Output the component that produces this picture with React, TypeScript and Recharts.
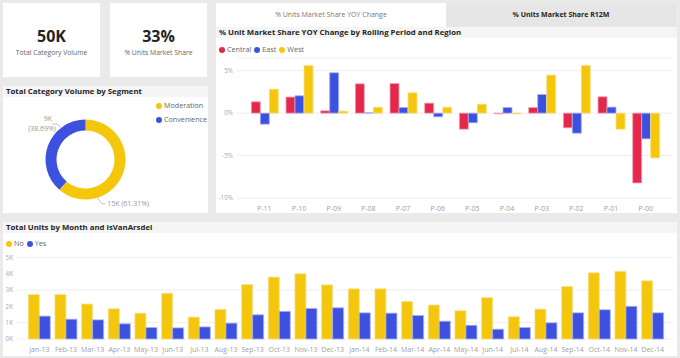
import React from "react";
import { BarChart, Bar, XAxis, YAxis, CartesianGrid, PieChart, Pie, Cell } from "recharts";

const periods = ["P-11", "P-10", "P-09", "P-08", "P-07", "P-06", "P-05", "P-04", "P-03", "P-02", "P-01", "P-00"];
const central = [1.34, 1.9, 0.28, 3.46, 3.5, 1.18, -1.89, -0.08, 0.67, -1.73, 1.93, -8.23];
const east = [-1.3, 2.05, 4.76, 0.04, 0.67, -0.43, -1.14, 0.67, 2.2, -2.36, 0.71, -3.03];
const west = [2.83, 5.6, 0.24, 0.7, 2.4, 0.7, 1.06, -0.1, 4.49, 5.63, -1.89, -5.28];
const yoyTicks = [-10, -5, 0, 5];

const months = [
  "Jan-13", "Feb-13", "Mar-13", "Apr-13", "May-13", "Jun-13", "Jul-13", "Aug-13", "Sep-13", "Oct-13", "Nov-13", "Dec-13",
  "Jan-14", "Feb-14", "Mar-14", "Apr-14", "May-14", "Jun-14", "Jul-14", "Aug-14", "Sep-14", "Oct-14", "Nov-14", "Dec-14",
];
const unitsNo = [2720, 2720, 2140, 1850, 1580, 2800, 1340, 1810, 3330, 3790, 3990, 3310, 3070, 3070, 2300, 2080, 1730, 2530, 1360, 1830, 3210, 4050, 4140, 3560];
const unitsYes = [1400, 1210, 1170, 930, 700, 680, 740, 970, 1480, 1690, 1870, 1910, 1600, 1580, 1440, 1090, 840, 600, 700, 990, 1600, 1790, 2000, 1600];
const unitTicks = [0, 1000, 2000, 3000, 4000, 5000];

const segments = ["Moderation", "Convenience"];
const segmentVolume = [15330, 9675];
const segmentLabels = ["15K (61.31%)", "9K (38.69%)"];

const RED = "#e3284b";
const BLUE = "#3d51e1";
const YELLOW = "#f4c70d";
const FONT = "'Segoe UI', 'Open Sans', sans-serif";

const yoyData = periods.map((p, i) => ({ name: p, Central: central[i], East: east[i], West: west[i] }));
const unitData = months.map((m, i) => ({ name: m, No: unitsNo[i], Yes: unitsYes[i] }));
const pieData = segments.map((s, i) => ({ name: s, value: segmentVolume[i], label: segmentLabels[i] }));
const pieColors = [YELLOW, BLUE];

const panel = (l: number, t: number, w: number, h: number, bg = "#fff"): React.CSSProperties => ({
  position: "absolute", left: l, top: t, width: w, height: h, background: bg,
});

const titleStyle: React.CSSProperties = {
  position: "absolute", left: 0, right: 0, top: 0, height: 11, background: "#f5f5f5",
  fontSize: 7.8, fontWeight: 700, color: "#252423", paddingLeft: 3, lineHeight: "11px", whiteSpace: "nowrap",
};

const kpiValue: React.CSSProperties = {
  position: "absolute", top: 23, width: "100%", textAlign: "center", fontSize: 16, lineHeight: "20px", fontWeight: 700, color: "#252423",
};
const kpiLabel: React.CSSProperties = {
  position: "absolute", top: 45, width: "100%", textAlign: "center", fontSize: 6.8, lineHeight: "10px", color: "#666",
};

const xTick = { fontSize: 7, fill: "#a0a0a0", fontFamily: FONT };
const yTick = { fontSize: 6.3, fill: "#a8a8a8", fontFamily: FONT };

function Dot({ color }: { color: string }) {
  return <span style={{ display: "inline-block", width: 6, height: 6, borderRadius: 3, background: color, marginRight: 2, verticalAlign: "-0.5px" }} />;
}

function Legend({ items }: { items: { name: string; color: string }[] }) {
  return (
    <div style={{ fontSize: 7.2, color: "#666", whiteSpace: "nowrap" }}>
      {items.map((it) => (
        <span key={it.name} style={{ marginRight: 3 }}>
          <Dot color={it.color} />
          {it.name}
        </span>
      ))}
    </div>
  );
}

const RADIAN = Math.PI / 180;
const labelAngle = [-73, 127];

function renderPieLabel(props: any) {
  const { cx, cy, outerRadius, index } = props;
  const a = labelAngle[index];
  const sx = cx + outerRadius * Math.cos(-a * RADIAN);
  const sy = cy + outerRadius * Math.sin(-a * RADIAN);
  const right = Math.cos(-a * RADIAN) >= 0;
  const mx = sx + (right ? 5 : -4.5);
  const my = sy + (right ? 6 : -3.5);
  const ex = mx + (right ? 3 : -5);
  const text = pieData[index].label;
  const parts = text.split(" ");
  return (
    <g key={index}>
      <path d={`M${sx},${sy}L${mx},${my}L${ex},${my}`} stroke="#b5b5b5" fill="none" strokeWidth={0.8} />
      {right ? (
        <text x={ex + 2} y={my + 2.5} fontSize={7} fill="#999" fontFamily={FONT}>{text}</text>
      ) : (
        <text fontSize={7} fill="#999" fontFamily={FONT} textAnchor="end">
          <tspan x={ex} y={my - 3}>{parts[0]}</tspan>
          <tspan x={ex + 4} y={my + 7}>{parts[1]}</tspan>
        </text>
      )}
    </g>
  );
}

export default function App() {
  return (
    <div style={{ position: "fixed", left: 0, top: 0, width: 680, height: 358, background: "#eaeaea", fontFamily: FONT, overflow: "hidden" }}>
      {/* KPI cards */}
      <div style={panel(3, 3, 97, 74)}>
        <div style={kpiValue}>50K</div>
        <div style={kpiLabel}>Total Category Volume</div>
      </div>
      <div style={panel(110, 3, 97, 74)}>
        <div style={kpiValue}>33%</div>
        <div style={kpiLabel}>% Units Market Share</div>
      </div>

      {/* Donut */}
      <div style={panel(3, 86, 205, 127)}>
        <div style={titleStyle}>Total Category Volume by Segment</div>
        <div style={{ position: "absolute", left: 0, top: 12 }}>
          <PieChart width={205} height={115}>
            <Pie
              data={pieData}
              dataKey="value"
              cx={77.5}
              cy={56.5}
              innerRadius={29}
              outerRadius={40}
              startAngle={90}
              endAngle={-270}
              stroke="none"
              isAnimationActive={false}
              label={renderPieLabel}
              labelLine={false}
            >
              {pieData.map((d, i) => (
                <Cell key={d.name} fill={pieColors[i]} />
              ))}
            </Pie>
          </PieChart>
        </div>
        <div style={{ position: "absolute", left: 153, top: 12, fontSize: 7.2, color: "#666", lineHeight: "14px", whiteSpace: "nowrap" }}>
          {pieData.map((d, i) => (
            <div key={d.name}>
              <Dot color={pieColors[i]} />
              {d.name}
            </div>
          ))}
        </div>
      </div>

      {/* Tabs */}
      <div style={{ ...panel(216, 3, 230, 24), fontSize: 7, color: "#777", textAlign: "center", lineHeight: "24px" }}>% Units Market Share YOY Change</div>
      <div style={{ ...panel(446, 3, 230, 24, "#e6e6e6"), fontSize: 7, fontWeight: 700, color: "#252423", textAlign: "center", lineHeight: "24px" }}>% Units Market Share R12M</div>

      {/* YOY chart */}
      <div style={panel(216, 27, 461, 186)}>
        <div style={titleStyle}>% Unit Market Share YOY Change by Rolling Period and Region</div>
        <div style={{ position: "absolute", left: 3, top: 17 }}>
          <Legend items={[{ name: "Central", color: RED }, { name: "East", color: BLUE }, { name: "West", color: YELLOW }]} />
        </div>
        <div style={{ position: "absolute", left: 0, top: 13 }}>
          <BarChart width={460} height={173} data={yoyData} margin={{ top: 18, right: 4, bottom: 0, left: 0 }} barCategoryGap="12.5%" barGap={0}>
            <CartesianGrid vertical={false} stroke="#eeeeee" />
            <XAxis dataKey="name" tick={xTick} tickLine={false} axisLine={false} height={15} padding={{ left: 10, right: 9 }} interval={0} />
            <YAxis domain={[-10, 6.5]} ticks={yoyTicks} tickFormatter={(v) => `${v}%`} tick={yTick} tickLine={false} tickSize={2} tickMargin={2} axisLine={false} width={21} />
            <Bar dataKey="Central" fill={RED} stroke="#f4a3b2" strokeWidth={0.8} isAnimationActive={false} />
            <Bar dataKey="East" fill={BLUE} stroke="#a6b0f2" strokeWidth={0.8} isAnimationActive={false} />
            <Bar dataKey="West" fill={YELLOW} stroke="#f9e08a" strokeWidth={0.8} isAnimationActive={false} />
          </BarChart>
        </div>
      </div>

      {/* Units chart */}
      <div style={panel(3, 222, 674, 134)}>
        <div style={titleStyle}>Total Units by Month and isVanArsdel</div>
        <div style={{ position: "absolute", left: 3, top: 16 }}>
          <Legend items={[{ name: "No", color: YELLOW }, { name: "Yes", color: BLUE }]} />
        </div>
        <div style={{ position: "absolute", left: 0, top: 28 }}>
          <BarChart width={674} height={104} data={unitData} margin={{ top: 7.3, right: 4, bottom: 0, left: 0 }} barCategoryGap="8.5%" barGap={0}>
            <CartesianGrid vertical={false} stroke="#eeeeee" />
            <XAxis dataKey="name" tick={xTick} tickLine={false} axisLine={false} height={15} padding={{ left: 9, right: 7 }} interval={0} />
            <YAxis domain={[0, 5000]} ticks={unitTicks} tickFormatter={(v) => `${v / 1000}K`} tick={yTick} tickLine={false} tickSize={2} tickMargin={2} axisLine={false} width={14} />
            <Bar dataKey="No" fill={YELLOW} stroke="#f9e08a" strokeWidth={0.8} isAnimationActive={false} />
            <Bar dataKey="Yes" fill={BLUE} stroke="#a6b0f2" strokeWidth={0.8} isAnimationActive={false} />
          </BarChart>
        </div>
      </div>
    </div>
  );
}
